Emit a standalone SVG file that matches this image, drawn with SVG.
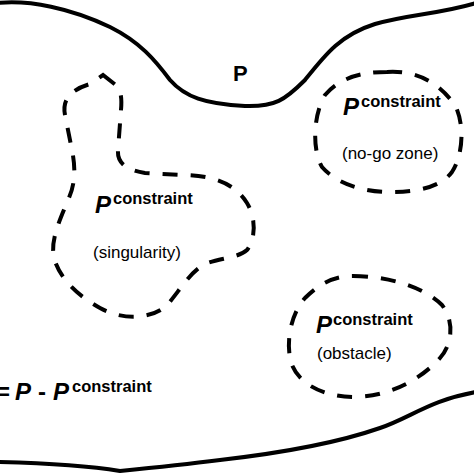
<svg xmlns="http://www.w3.org/2000/svg" width="474" height="474" viewBox="0 0 474 474">
<style>
.solid{fill:none;stroke:#000;stroke-width:4;stroke-linecap:round;stroke-linejoin:round}
.dash{fill:none;stroke:#000;stroke-width:4;stroke-dasharray:15 13}
.lbl{font-family:"Liberation Sans",Arial,sans-serif;fill:#000}
.bp{font-weight:bold;font-style:italic;font-size:24px}
.sup{font-weight:bold;font-size:16.5px}
.sub{font-size:17px}
</style>
<rect width="474" height="474" fill="#fff"/>
<g id="region-P">
<path class="solid" d="M-2,3 C30,0 70,8 110,27 C140,42 155,60 170,80 C185,97 205,104 245,106 C275,107 285,100 305,80 C325,55 340,35 375,24 C410,14 440,14 476,3"/>
<path class="solid" d="M-2,462 C40,463 90,466 120,471 C150,468 180,465 220,460 C290,452 340,442 380,428 C410,418 430,400 476,392"/>
<text class="lbl" x="233" y="81" font-size="22" font-weight="bold">P</text>
</g>
<g id="singularity">
<path class="dash" d="M103,75 L117,86 C121,92 122,98 121,110 L118,150 C117,162 125,170 145,173 L185,175 C215,176 235,184 247,203 C256,218 256,238 247,250 C238,258 220,258 205,264 C190,272 180,290 168,304 C155,318 125,322 100,308 C80,297 60,280 54,258 C50,240 60,220 68,200 C75,185 76,170 72,150 L65,115 C62,100 70,90 90,84 Z"/>
<text class="lbl bp" x="95" y="213">P</text>
<text class="lbl sup" x="113" y="204">constraint</text>
<text class="lbl sub" x="93" y="258">(singularity)</text>
</g>
<g id="nogo">
<path class="dash" d="M387,72 C420,70 440,85 455,105 C465,125 463,155 452,172 C440,188 415,192 390,192 C360,192 335,182 322,167 C312,150 313,115 325,95 C340,78 360,72 387,72 Z"/>
<text class="lbl bp" x="343" y="115">P</text>
<text class="lbl sup" x="361" y="107">constraint</text>
<text class="lbl sub" x="342" y="159">(no-go zone)</text>
</g>
<g id="obstacle">
<path class="dash" d="M353,276 C390,276 425,288 442,305 C455,322 452,345 440,358 C425,375 395,396 355,397 C325,397 300,385 292,365 C285,345 290,315 305,298 C320,283 335,276 353,276 Z"/>
<text class="lbl bp" x="316" y="333">P</text>
<text class="lbl sup" x="333" y="325" font-size="17">constraint</text>
<text class="lbl sub" x="317" y="359">(obstacle)</text>
</g>
<g id="formula">
<text class="lbl" x="-4" y="400" font-size="24" font-weight="bold">=</text>
<text class="lbl bp" x="15" y="400">P</text>
<text class="lbl" x="38" y="400" font-size="24" font-weight="bold">-</text>
<text class="lbl bp" x="53" y="400">P</text>
<text class="lbl sup" x="72" y="392">constraint</text>
</g>
<g id="connectors"></g>
</svg>
